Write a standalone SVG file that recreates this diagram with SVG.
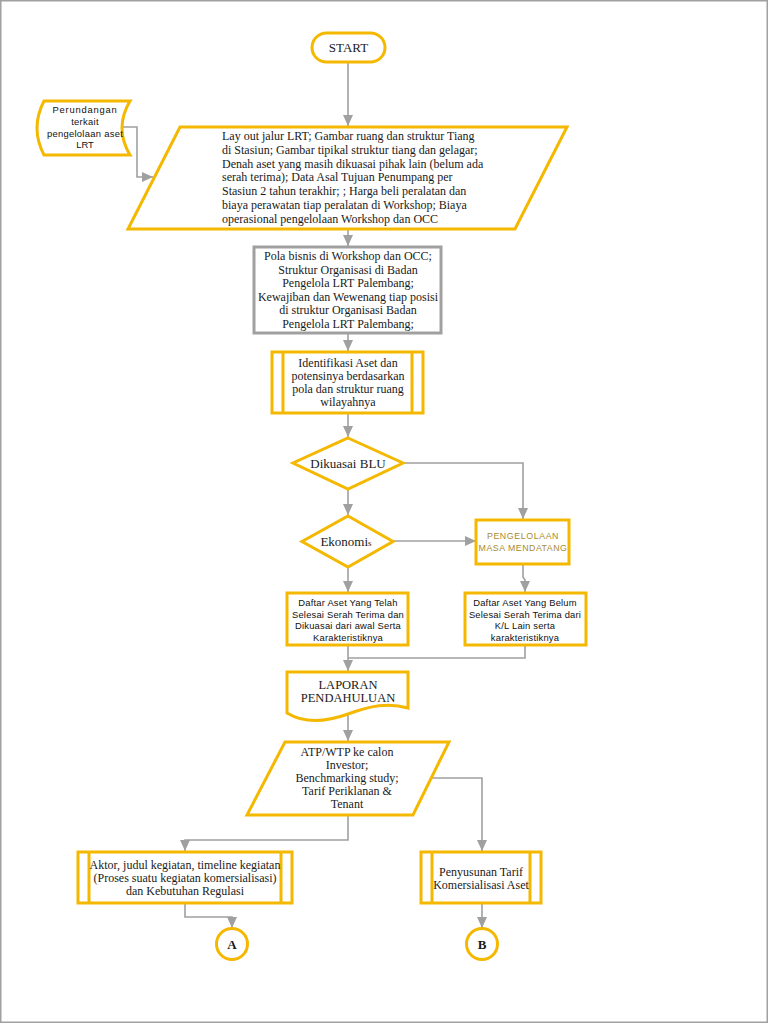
<svg xmlns="http://www.w3.org/2000/svg" width="768" height="1024" viewBox="0 0 768 1024">
<defs>
<marker id="arr" markerUnits="userSpaceOnUse" markerWidth="12" markerHeight="12" viewBox="0 0 12 12" refX="11" refY="6" orient="auto">
<path d="M0,1 L11,6 L0,11 Z" fill="#a0a0a0"/>
</marker>
</defs>
<style>
.node{fill:#fff;stroke:#f5b800;stroke-width:3;stroke-linejoin:miter}
.thin{fill:none;stroke:#f5b800;stroke-width:3}
.gray{fill:#fff;stroke:#a0a0a0;stroke-width:3}
.conn{fill:none;stroke:#a0a0a0;stroke-width:1.6}
.serif{font-family:"Liberation Serif","Times New Roman",serif;font-size:12px;fill:#1a1a1a}
.sans{font-family:"Liberation Sans",Arial,sans-serif;font-size:9.4px;fill:#111}
.c{text-anchor:middle}
</style>
<rect x="0.75" y="0.75" width="766.5" height="1021.5" fill="#fff" stroke="#a0a0a0" stroke-width="1.5"/>

<g id="connectors">
<path class="conn" d="M348,62 V126" marker-end="url(#arr)"/>
<path class="conn" d="M122,127 H137 V177 H153" marker-end="url(#arr)"/>
<path class="conn" d="M348,229 V246" marker-end="url(#arr)"/>
<path class="conn" d="M348,333 V351" marker-end="url(#arr)"/>
<path class="conn" d="M348,413 V437" marker-end="url(#arr)"/>
<path class="conn" d="M402,463 H523 V519" marker-end="url(#arr)"/>
<path class="conn" d="M348,489 V515" marker-end="url(#arr)"/>
<path class="conn" d="M393,541 H476" marker-end="url(#arr)"/>
<path class="conn" d="M523,564 V577 L525,580 V592" marker-end="url(#arr)"/>
<path class="conn" d="M348,567 V592" marker-end="url(#arr)"/>
<path class="conn" d="M525,645 V658 H348"/>
<path class="conn" d="M348,645 V671" marker-end="url(#arr)"/>
<path class="conn" d="M348,714 V741" marker-end="url(#arr)"/>
<path class="conn" d="M432,778 H482 V851" marker-end="url(#arr)"/>
<path class="conn" d="M348,815 V840 H185 V851" marker-end="url(#arr)"/>
<path class="conn" d="M185,903 V917 H232 V928" marker-end="url(#arr)"/>
<path class="conn" d="M482,903 V928" marker-end="url(#arr)"/>
</g>

<g id="start">
<rect class="node" x="312" y="33" width="73" height="29" rx="14.5"/>
<text class="serif c" x="348.5" y="52" style="font-size:13px">START</text>
</g>

<g id="perundangan">
<path class="node" d="M44,101 H130 Q114,128 130,155 H44 Q30,128 44,101 Z"/>
<text class="sans c" x="85" y="113" style="letter-spacing:0.8px">Perundangan</text>
<text class="sans c" x="85" y="125" style="letter-spacing:0.3px">terkait</text>
<text class="sans c" x="85" y="136.5" style="letter-spacing:0.3px">pengelolaan aset</text>
<text class="sans c" x="85" y="148">LRT</text>
</g>

<g id="input-data">
<polygon class="node" points="180,127 567,127 515,229 128,229"/>
<text class="serif" x="222" y="140">Lay out jalur LRT; Gambar ruang dan struktur Tiang</text>
<text class="serif" x="222" y="153.8">di Stasiun; Gambar tipikal struktur tiang dan gelagar;</text>
<text class="serif" x="222" y="167.6">Denah aset yang masih dikuasai pihak lain (belum ada</text>
<text class="serif" x="222" y="181.4">serah terima); Data Asal Tujuan Penumpang per</text>
<text class="serif" x="222" y="195.2">Stasiun 2 tahun terakhir;  ; Harga beli peralatan dan</text>
<text class="serif" x="222" y="209">biaya perawatan tiap peralatan di Workshop; Biaya</text>
<text class="serif" x="222" y="222.8">operasional pengelolaan Workshop dan OCC</text>
</g>

<g id="pola-bisnis">
<rect class="gray" x="254" y="247" width="187" height="86"/>
<text class="serif c" x="348" y="260">Pola bisnis di Workshop dan OCC;</text>
<text class="serif c" x="348" y="273.5">Struktur Organisasi di Badan</text>
<text class="serif c" x="348" y="287">Pengelola LRT Palembang;</text>
<text class="serif c" x="348" y="300.5">Kewajiban dan Wewenang tiap posisi</text>
<text class="serif c" x="348" y="314">di struktur Organisasi Badan</text>
<text class="serif c" x="348" y="327.5">Pengelola LRT Palembang;</text>
</g>

<g id="identifikasi">
<rect class="node" x="272" y="352" width="151" height="61"/>
<line class="thin" x1="283" y1="352" x2="283" y2="413"/>
<line class="thin" x1="412" y1="352" x2="412" y2="413"/>
<text class="serif c" x="348" y="367">Identifikasi Aset dan</text>
<text class="serif c" x="348" y="380">potensinya berdasarkan</text>
<text class="serif c" x="348" y="393">pola dan struktur ruang</text>
<text class="serif c" x="348" y="406">wilayahnya</text>
</g>

<g id="dikuasai-blu">
<polygon class="node" points="348,438 403,463 348,489 293,463"/>
<text class="serif c" x="348" y="468" style="font-size:13px">Dikuasai BLU</text>
</g>

<g id="ekonomis">
<polygon class="node" points="348,516 393,541.5 348,567 302,541.5"/>
<text class="serif c" x="346" y="546" style="font-size:13px">Ekonomi<tspan style="font-size:9px">s</tspan></text>
</g>

<g id="pengelolaan">
<rect class="node" x="476" y="520" width="93" height="44"/>
<text class="sans c" x="523" y="538.5" style="fill:#a88b2e;letter-spacing:0.6px;font-size:8.8px">PENGELOLAAN</text>
<text class="sans c" x="523" y="550.5" style="fill:#a88b2e;letter-spacing:0.5px;font-size:8.8px">MASA MENDATANG</text>
</g>

<g id="daftar-telah">
<rect class="node" x="287" y="593" width="121" height="52"/>
<text class="sans c" x="348" y="606" style="letter-spacing:0.2px">Daftar Aset Yang Telah</text>
<text class="sans c" x="348" y="617.5" style="letter-spacing:0.2px">Selesai Serah Terima dan</text>
<text class="sans c" x="348" y="629" style="letter-spacing:0.2px">Dikuasai dari awal Serta</text>
<text class="sans c" x="348" y="640.5" style="letter-spacing:0.2px">Karakteristiknya</text>
</g>

<g id="daftar-belum">
<rect class="node" x="465" y="593" width="121" height="52"/>
<text class="sans c" x="525" y="606" style="letter-spacing:0.2px">Daftar Aset Yang Belum</text>
<text class="sans c" x="525" y="617.5" style="letter-spacing:0.2px">Selesai Serah Terima dari</text>
<text class="sans c" x="525" y="629" style="letter-spacing:0.2px">K/L Lain serta</text>
<text class="sans c" x="525" y="640.5" style="letter-spacing:0.2px">karakteristiknya</text>
</g>

<g id="laporan">
<path class="node" d="M287,672 H408 V708 C388,702 370,706 348,714 C326,722 305,724 287,713 Z"/>
<text class="serif c" x="348" y="689" style="font-size:12.5px">LAPORAN</text>
<text class="serif c" x="348" y="702" style="font-size:12.5px">PENDAHULUAN</text>
</g>

<g id="atp-wtp">
<polygon class="node" points="285,742 449,742 413,815 247,815"/>
<text class="serif c" x="347" y="756">ATP/WTP ke calon</text>
<text class="serif c" x="347" y="769">Investor;</text>
<text class="serif c" x="347" y="781.5">Benchmarking study;</text>
<text class="serif c" x="347" y="794.5">Tarif Periklanan &amp;</text>
<text class="serif c" x="347" y="807.5">Tenant</text>
</g>

<g id="aktor">
<rect class="node" x="78" y="852" width="214" height="51"/>
<line class="thin" x1="89" y1="852" x2="89" y2="903"/>
<line class="thin" x1="281" y1="852" x2="281" y2="903"/>
<text class="serif c" x="185" y="869">Aktor, judul kegiatan, timeline kegiatan</text>
<text class="serif c" x="185" y="882">(Proses suatu kegiatan komersialisasi)</text>
<text class="serif c" x="185" y="895">dan Kebutuhan Regulasi</text>
</g>

<g id="penyusunan">
<rect class="node" x="421" y="852" width="120" height="51"/>
<line class="thin" x1="432" y1="852" x2="432" y2="903"/>
<line class="thin" x1="530" y1="852" x2="530" y2="903"/>
<text class="serif c" x="481" y="876">Penyusunan Tarif</text>
<text class="serif c" x="481" y="889">Komersialisasi Aset</text>
</g>

<g id="connector-a">
<circle class="node" cx="232" cy="944" r="15.5"/>
<text class="serif c" x="232" y="949" style="font-weight:bold;font-size:13px">A</text>
</g>

<g id="connector-b">
<circle class="node" cx="482" cy="944" r="15.5"/>
<text class="serif c" x="482" y="949" style="font-weight:bold;font-size:13px">B</text>
</g>
</svg>
